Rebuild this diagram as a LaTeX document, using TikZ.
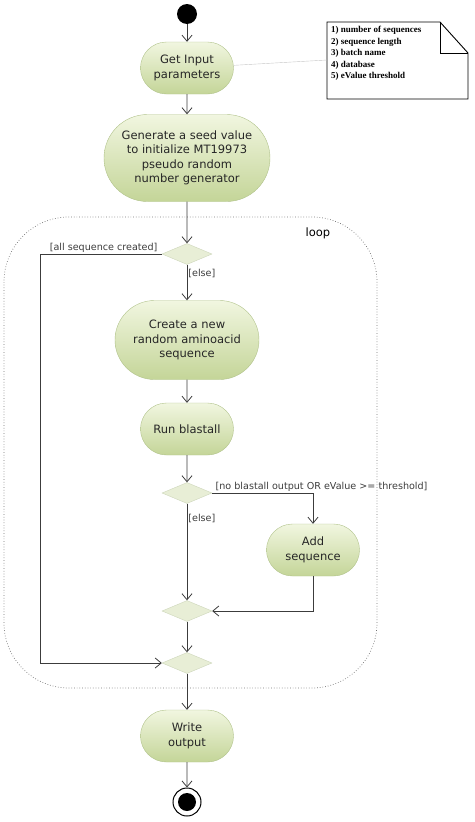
\documentclass[tikz,border=0pt]{standalone}
\usepackage{fontspec}
\setmainfont{DejaVu Sans}
\newfontfamily\notefont{Liberation Serif}
\usetikzlibrary{arrows.meta,positioning,shapes.geometric,shapes.misc}
\definecolor{actlight}{RGB}{241,246,224}
\definecolor{actdark}{RGB}{196,213,152}
\definecolor{actborder}{RGB}{176,194,138}
\definecolor{decfill}{RGB}{232,238,214}
\definecolor{decborder}{RGB}{205,214,186}
\definecolor{flowgray}{RGB}{60,60,60}

\begin{document}
\begin{tikzpicture}[x=1pt,y=-1pt,font=\fontsize{11.5}{14.5}\selectfont,
    act/.style={rounded rectangle,draw=actborder,top color=actlight,bottom color=actdark,
      text=black!85,align=center,minimum width=97,minimum height=52,inner sep=2pt},
    dec/.style={diamond,draw=decborder,fill=decfill,minimum width=50,minimum height=21,inner sep=0},
    flow/.style={draw=flowgray,line width=.8pt,-{Straight Barb[length=6pt,width=10pt]}},
    guard/.style={font=\fontsize{9.6}{11}\selectfont,text=flowgray,inner sep=1pt}]
    \useasboundingbox (0,0) rectangle (474,822);
    % loop region
    \draw[dotted,black!55,line width=.7pt,rounded corners=65] (4,217) rectangle (377,688);
    \node[font=\fontsize{11.5}{13}\selectfont] (looptag) at (318,233) {loop};
    % activities
    \node[circle,fill=black,minimum size=20,inner sep=0] (start) at (187,14) {};
    \node[act] (get) at (187,68) {Get Input\\parameters};
    \node[act,minimum width=170,minimum height=87] (seed) at (187,158) {Generate a seed value\\to initialize MT19973\\pseudo random\\number generator};
    \node[dec] (d1) at (187,254) {};
    \node[act,minimum width=148,minimum height=79] (create) at (187,340) {Create a new\\random aminoacid\\sequence};
    \node[act] (run) at (187,429) {Run blastall};
    \node[dec] (d2) at (187,493) {};
    \node[act] (add) at (313,550) {Add\\sequence};
    \node[dec] (d3) at (187,611) {};
    \node[dec] (d4) at (187,663) {};
    \node[act] (write) at (187,736) {Write\\output};
    \node[circle,draw=black,line width=1pt,minimum size=28,inner sep=0] (stop) at (187,802) {};
    \fill (stop.center) circle[radius=9];
    % note
    \draw[line width=.9pt] (327,22) -- (440,22) -- (468,53) |- (327,99) -- cycle;
    \draw[line width=.9pt] (440,22) |- (468,53);
    \node[anchor=north west,align=left,inner sep=0,font=\notefont\bfseries\fontsize{9}{11.5}\selectfont] (params) at (331,26)
      {1) number of sequences\\2) sequence length\\3) batch name\\4) database\\5) eValue threshold};
    \coordinate (notein) at (327,60);
    \draw[gray!45] (get) -- (notein);
    % flows
    \draw[flow] (start) -- (get);
    \draw[flow] (get) -- (seed);
    \draw[flow] (seed) -- (d1);
    \draw[flow] (d1) -- node[guard,right,pos=.25]{[else]} (create);
    \draw[flow] (d1.west) -- node[guard,pos=0,anchor=south east,xshift=-3]{[all sequence created]} ++(-121,0) |- (d4.west);
    \draw[flow] (create) -- (run);
    \draw[flow] (run) -- (d2);
    \draw[flow] (d2.east) -| node[guard,pos=0,anchor=south west,xshift=2]{[no blastall output OR eValue >= threshold]} (add);
    \draw[flow] (d2) -- node[guard,right,pos=.15]{[else]} (d3);
    \draw[flow] (add) |- (d3.east);
    \draw[flow] (d3) -- (d4);
    \draw[flow] (d4) -- (write);
    \draw[flow] (write) -- (stop);
\end{tikzpicture}
\end{document}
